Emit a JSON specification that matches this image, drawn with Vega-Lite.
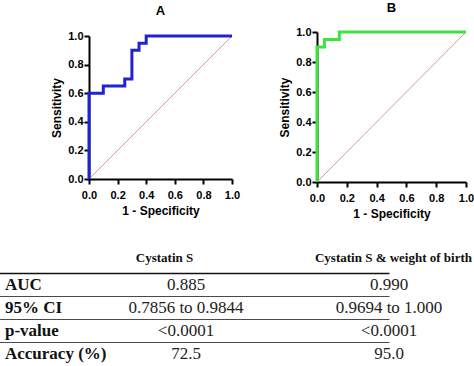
{
  "$schema": "https://vega.github.io/schema/vega-lite/v6.json",
  "background": "white",
  "padding": {"left": 0, "top": 2, "right": 0, "bottom": 0},
  "config": {
    "view": {"stroke": null},
    "axis": {
      "domainColor": "black", "domainWidth": 2, "tickColor": "black", "tickWidth": 2, "tickSize": 5,
      "labelFont": "Liberation Sans", "labelFontWeight": "bold", "labelFontSize": 11, "labelColor": "black",
      "labelOverlap": false, "labelFlush": false,
      "titleFont": "Liberation Sans", "titleFontWeight": "bold", "titleFontSize": 12, "titleColor": "black",
      "grid": false
    },
    "title": {"font": "Liberation Sans", "fontWeight": "bold", "fontSize": 13, "color": "black"}
  },
  "spacing": 32,
  "vconcat": [
    {
      "spacing": 38,
      "hconcat": [
        {
          "width": 12, "height": 10,
          "view": {"fill": "white", "stroke": null},
          "data": {"values": []},
          "mark": "text",
          "encoding": {}
        },
        {
          "title": {"text": "A", "offset": 12},
          "width": 143, "height": 147,
          "layer": [
            {
              "data": {"values": [{"fpr": 0, "tpr": 0}, {"fpr": 1, "tpr": 1}]},
              "mark": {"type": "line", "color": "#d99a9a", "strokeWidth": 1},
              "encoding": {
                "x": {"field": "fpr", "type": "quantitative", "scale": {"domain": [0, 1]},
                      "axis": {"title": "1 - Specificity", "values": [0, 0.2, 0.4, 0.6, 0.8, 1], "tickCount": 6, "format": ".1f", "labelPadding": 5, "titlePadding": 5}},
                "y": {"field": "tpr", "type": "quantitative", "scale": {"domain": [0, 1], "range": [147, 4]},
                      "axis": {"title": "Sensitivity", "values": [0, 0.2, 0.4, 0.6, 0.8, 1], "tickCount": 6, "format": ".1f", "labelPadding": 1, "titlePadding": 4}}
              }
            },
            {
              "data": {"values": [
                {"k": 1, "fpr": 0, "tpr": 0}, {"k": 2, "fpr": 0, "tpr": 0.6}, {"k": 3, "fpr": 0.1, "tpr": 0.6},
                {"k": 4, "fpr": 0.1, "tpr": 0.65}, {"k": 5, "fpr": 0.25, "tpr": 0.65}, {"k": 6, "fpr": 0.25, "tpr": 0.7},
                {"k": 7, "fpr": 0.3, "tpr": 0.7}, {"k": 8, "fpr": 0.3, "tpr": 0.9}, {"k": 9, "fpr": 0.35, "tpr": 0.9},
                {"k": 10, "fpr": 0.35, "tpr": 0.95}, {"k": 11, "fpr": 0.4, "tpr": 0.95}, {"k": 12, "fpr": 0.4, "tpr": 1},
                {"k": 13, "fpr": 1, "tpr": 1}
              ]},
              "mark": {"type": "line", "color": "#1f22d6", "strokeWidth": 3},
              "encoding": {
                "x": {"field": "fpr", "type": "quantitative"},
                "y": {"field": "tpr", "type": "quantitative"},
                "order": {"field": "k"}
              }
            }
          ]
        },
        {
          "title": {"text": "B", "offset": 11},
          "width": 149, "height": 150,
          "layer": [
            {
              "data": {"values": [{"fpr": 0, "tpr": 0}, {"fpr": 1, "tpr": 1}]},
              "mark": {"type": "line", "color": "#d99a9a", "strokeWidth": 1},
              "encoding": {
                "x": {"field": "fpr", "type": "quantitative", "scale": {"domain": [0, 1]},
                      "axis": {"title": "1 - Specificity", "values": [0, 0.2, 0.4, 0.6, 0.8, 1], "tickCount": 6, "format": ".1f", "labelPadding": 5, "titlePadding": 5}},
                "y": {"field": "tpr", "type": "quantitative", "scale": {"domain": [0, 1]},
                      "axis": {"title": "Sensitivity", "values": [0, 0.2, 0.4, 0.6, 0.8, 1], "tickCount": 6, "format": ".1f", "labelPadding": 1, "titlePadding": 4}}
              }
            },
            {
              "data": {"values": [
                {"k": 1, "fpr": 0, "tpr": 0}, {"k": 2, "fpr": 0, "tpr": 0.9}, {"k": 3, "fpr": 0.05, "tpr": 0.9},
                {"k": 4, "fpr": 0.05, "tpr": 0.95}, {"k": 5, "fpr": 0.15, "tpr": 0.95}, {"k": 6, "fpr": 0.15, "tpr": 1},
                {"k": 7, "fpr": 1, "tpr": 1}
              ]},
              "mark": {"type": "line", "color": "#3fe23f", "strokeWidth": 3},
              "encoding": {
                "x": {"field": "fpr", "type": "quantitative"},
                "y": {"field": "tpr", "type": "quantitative"},
                "order": {"field": "k"}
              }
            }
          ]
        }
      ]
    },
    {
      "width": 474, "height": 92,
      "data": {"values": [
        {"metric": "AUC", "Cystatin S": "0.885", "Cystatin S & weight of birth": "0.990"},
        {"metric": "95% CI", "Cystatin S": "0.7856 to 0.9844", "Cystatin S & weight of birth": "0.9694 to 1.000"},
        {"metric": "p-value", "Cystatin S": "<0.0001", "Cystatin S & weight of birth": "<0.0001"},
        {"metric": "Accuracy (%)", "Cystatin S": "72.5", "Cystatin S & weight of birth": "95.0"}
      ]},
      "encoding": {
        "y": {"field": "metric", "type": "nominal",
              "scale": {"type": "band", "domain": ["AUC", "95% CI", "p-value", "Accuracy (%)"], "paddingInner": 0, "paddingOuter": 0},
              "axis": {"title": null, "labels": false, "ticks": false, "domain": false, "grid": true, "bandPosition": 0,
                       "gridColor": {"condition": {"test": "datum.value === 'AUC'", "value": "#111111"}, "value": "#4a4a4a"},
                       "gridWidth": {"condition": {"test": "datum.value === 'AUC'", "value": 1.5}, "value": 1}}}
      },
      "layer": [
        {
          "mark": {"type": "text", "align": "left", "baseline": "middle", "dx": 22, "font": "Liberation Serif", "fontWeight": "bold", "fontSize": 17, "color": "#111111"},
          "encoding": {
            "x": {"datum": "Metric", "type": "nominal",
                  "scale": {"type": "point", "domain": ["Metric", "Cystatin S", "Cystatin S & weight of birth"], "range": [-17, 389], "padding": 0},
                  "axis": {"orient": "top", "title": null, "domain": false, "ticks": false, "grid": false, "labelAngle": 0,
                           "values": ["Cystatin S", "Cystatin S & weight of birth"],
                           "labelFont": "Liberation Serif", "labelFontWeight": "bold", "labelFontSize": 13, "labelColor": "#111111",
                           "labelPadding": 9, "labelLimit": 300,
                           "labelOffset": {"condition": {"test": "datum.value === 'Cystatin S'", "value": -22}, "value": 4}}},
            "text": {"field": "metric"}
          }
        },
        {
          "transform": [{"fold": ["Cystatin S", "Cystatin S & weight of birth"], "as": ["column", "value"]}],
          "mark": {"type": "text", "align": "center", "baseline": "middle", "font": "Liberation Serif", "fontSize": 17, "color": "#222222"},
          "encoding": {
            "x": {"field": "column", "type": "nominal"},
            "text": {"field": "value"}
          }
        }
      ]
    }
  ]
}
